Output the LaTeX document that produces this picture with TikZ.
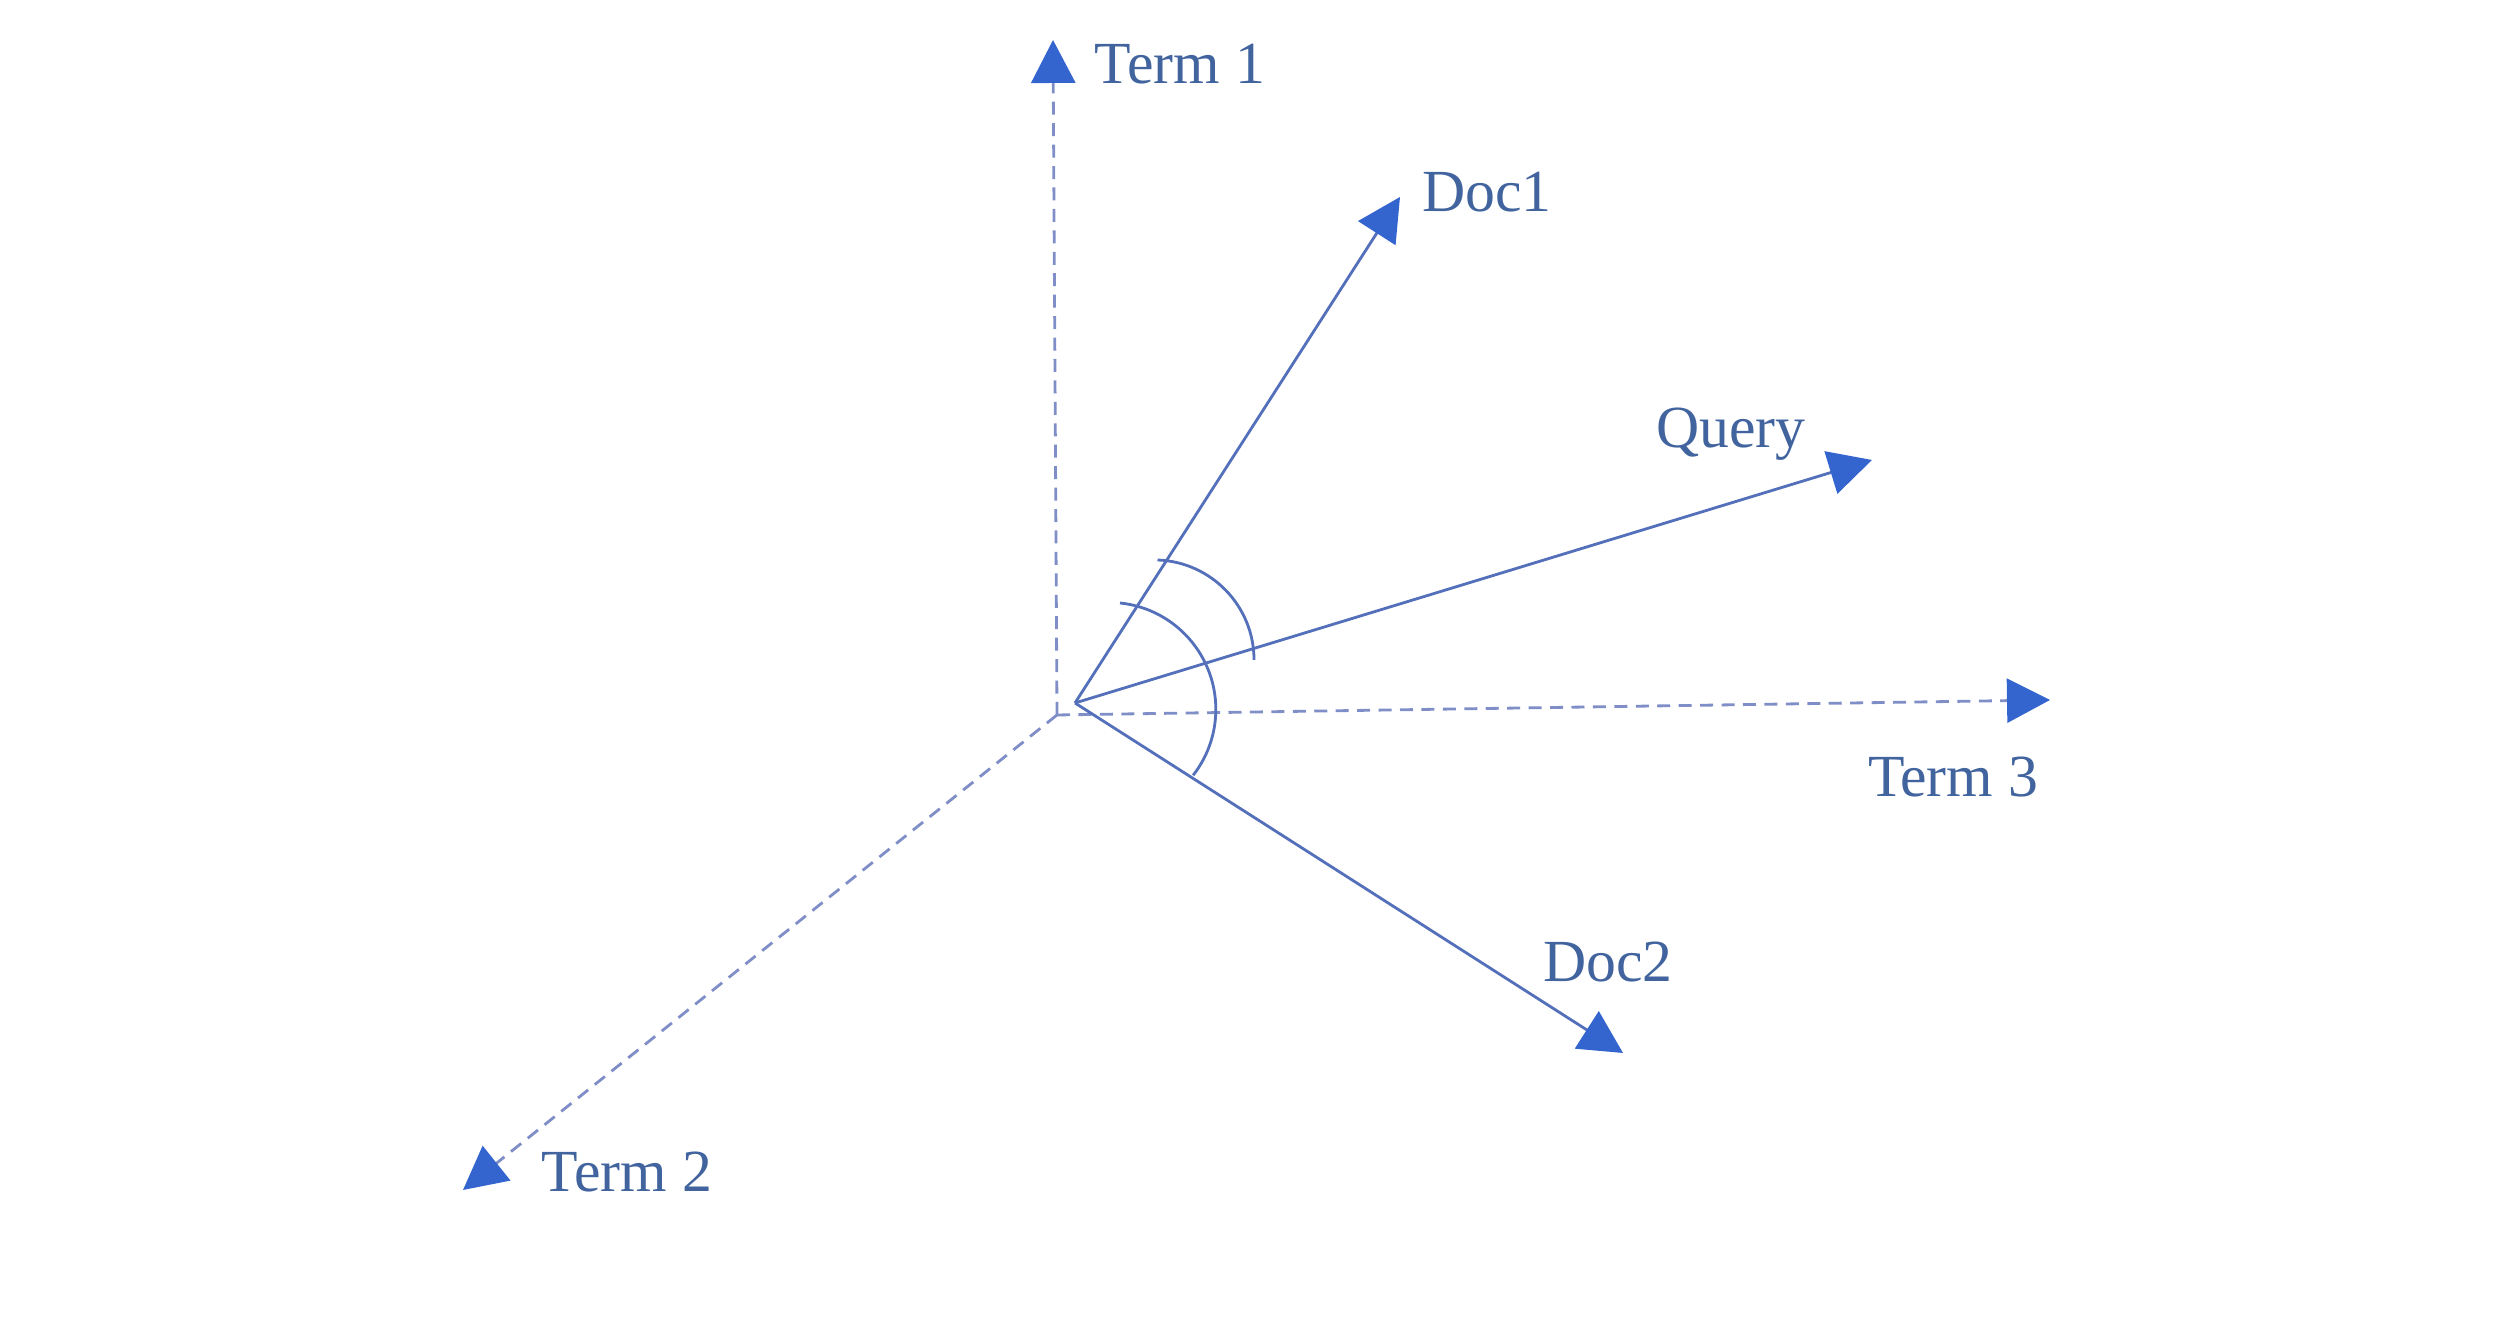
\documentclass[tikz,border=0pt]{standalone}
\usepackage{fontspec}
\setmainfont{Liberation Serif}
\usetikzlibrary{arrows.meta}
\definecolor{linecol}{RGB}{84,112,186}
\definecolor{axiscol}{RGB}{128,142,200}
\definecolor{tipcol}{RGB}{52,100,206}
\definecolor{textcol}{RGB}{66,100,158}
\begin{document}
\begin{tikzpicture}[x=1cm,y=1cm,
  vec/.style={draw=linecol, line width=0.8pt, -{Triangle[length=4.3mm,width=4.4mm,color=tipcol]}},
  axis/.style={vec, draw=axiscol, dash pattern=on 3.7pt off 2.4pt},
  lbl/.style={text=textcol, font=\fontsize{17}{20}\selectfont, inner sep=0pt},
  anglearc/.style={draw=linecol, line width=0.8pt}]
\useasboundingbox (0,0) rectangle (25.02,13.37);
\coordinate (o) at (10.57,6.22);
\coordinate (v) at (10.75,6.34);
\coordinate (t1) at (10.53,12.97);
\coordinate (t2) at (4.63,1.47);
\coordinate (t3) at (20.50,6.37);
\coordinate (d1) at (14.00,11.40);
\coordinate (q) at (18.72,8.77);
\coordinate (d2) at (16.23,2.84);
\node[lbl] (term1) at (11.80,12.73) {Term 1};
\node[lbl] (term2) at (6.27,1.65) {Term 2};
\node[lbl] (term3) at (19.53,5.60) {Term 3};
\node[lbl] (doc1) at (14.87,11.45) {Doc1};
\node[lbl] (query) at (17.31,9.03) {Query};
\node[lbl] (doc2) at (16.08,3.75) {Doc2};
\draw[axis] (o) -- (t1);
\draw[axis] (o) -- (t2);
\draw[axis] (o) -- (t3);
\draw[vec] (v) -- (d1);
\draw[vec] (v) -- (q);
\draw[vec] (v) -- (d2);
\draw[anglearc] (11.575,7.77) arc[start angle=88, end angle=0, radius=1.00];
\draw[anglearc] (11.20,7.34) arc[start angle=84, end angle=-38, radius=1.07];
\end{tikzpicture}
\end{document}
